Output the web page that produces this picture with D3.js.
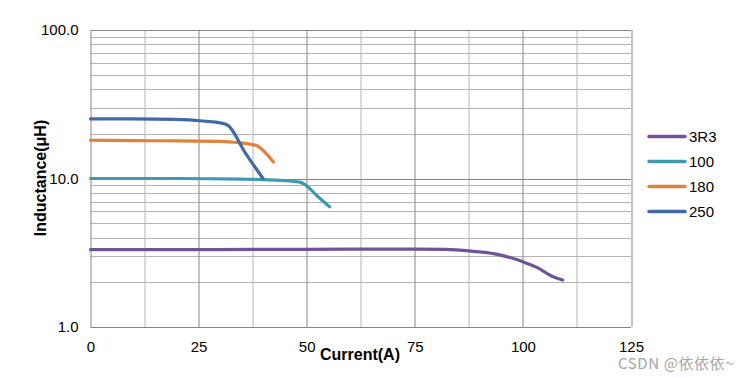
<!DOCTYPE html>
<html>
<head>
<meta charset="utf-8">
<script src="https://cdn.jsdelivr.net/npm/d3@7"></script>
<style>
  body { margin: 0; background: #fff; }
  svg { display: block; font-family: "Liberation Sans", Arial, sans-serif; }
</style>
</head>
<body>
<svg id="chart" width="750" height="378"></svg>
<script>
// series names and colours
var seriesNames = ["3R3", "100", "180", "250"];
var seriesColors = ["#6f5597", "#3f99af", "#e0823c", "#4169a6"];

// [current (A), inductance (uH)]
var data3R3 = [[0, 3.32], [20, 3.32], [40, 3.33], [60, 3.34], [75, 3.35], [82, 3.33], [88, 3.24],
    [93.5, 3.11], [100, 2.75], [103, 2.54], [107, 2.18], [109.2, 2.07]];
var data100 = [[0, 10.0], [20, 10.0], [35, 9.9], [44, 9.7], [48.4, 9.45], [49.6, 9.1], [52.5, 7.6], [55.3, 6.45]];
var data180 = [[0, 18.1], [10, 18.0], [20, 17.9], [30, 17.8], [34.5, 17.4], [37, 17.0], [38.5, 16.6], [42.3, 12.9]];
var data250 = [[0, 25.2], [10, 25.2], [19.5, 25.0], [26, 24.4], [30.3, 23.6], [31.8, 22.8], [35.8, 14.9], [39.9, 10.0]];

var xTicks = [0, 25, 50, 75, 100, 125];
var yTicks = [1, 10, 100];

var allSeries = [data3R3, data100, data180, data250];

var svg = d3.select("#chart"),
    margin = {top: 30, right: 119, bottom: 51, left: 90.5},
    width = 750 - margin.left - margin.right,
    height = 378 - margin.top - margin.bottom,
    g = svg.append("g").attr("transform", "translate(" + margin.left + "," + margin.top + ")");

var x = d3.scaleLinear().domain([0, 125]).range([0, width]);
var y = d3.scaleLog().domain([1, 100]).range([height, 0]);

// minor grid: every 12.5 A and log 2..9
var xMinor = d3.range(12.5, 125, 25);
var yMinor = [];
[1, 10].forEach(function (dec) {
    for (var k = 2; k <= 9; k++) yMinor.push(dec * k);
});

g.append("g").selectAll("line")
    .data(xMinor)
    .enter().append("line")
    .attr("x1", function (d) { return Math.round(x(d)) + 0.5; })
    .attr("x2", function (d) { return Math.round(x(d)) + 0.5; })
    .attr("y1", 0).attr("y2", height)
    .attr("stroke", "#b4b4b4").attr("stroke-width", 1);

g.append("g").selectAll("line")
    .data(yMinor)
    .enter().append("line")
    .attr("y1", function (d) { return Math.round(y(d)) + 0.5; })
    .attr("y2", function (d) { return Math.round(y(d)) + 0.5; })
    .attr("x1", 0).attr("x2", width)
    .attr("stroke", "#b4b4b4").attr("stroke-width", 1);

// major grid
g.append("g").selectAll("line")
    .data(xTicks)
    .enter().append("line")
    .attr("x1", function (d) { return Math.round(x(d)) + 0.5; })
    .attr("x2", function (d) { return Math.round(x(d)) + 0.5; })
    .attr("y1", 0).attr("y2", height)
    .attr("stroke", "#868686").attr("stroke-width", 1);

g.append("g").selectAll("line")
    .data(yTicks)
    .enter().append("line")
    .attr("y1", function (d) { return Math.round(y(d)) + 0.5; })
    .attr("y2", function (d) { return Math.round(y(d)) + 0.5; })
    .attr("x1", 0).attr("x2", width)
    .attr("stroke", "#868686").attr("stroke-width", 1);

// axes (labels only, lines drawn by the grid)
var xAxis = g.append("g")
    .attr("transform", "translate(0," + height + ")")
    .call(d3.axisBottom(x).tickValues(xTicks).tickSize(0).tickPadding(14).tickFormat(d3.format("d")));
xAxis.select(".domain").remove();
xAxis.selectAll("text").attr("font-size", 15).attr("fill", "#000").attr("font-family", "Liberation Sans, Arial, sans-serif");

var yAxis = g.append("g")
    .call(d3.axisLeft(y).tickValues(yTicks).tickSize(0).tickPadding(12).tickFormat(d3.format(".1f")));
yAxis.select(".domain").remove();
yAxis.selectAll("text").attr("font-size", 15).attr("fill", "#000").attr("font-family", "Liberation Sans, Arial, sans-serif");

// series lines
var line = d3.line()
    .x(function (d) { return x(d[0]); })
    .y(function (d) { return y(d[1]); })
    .curve(d3.curveMonotoneX);

g.append("g").selectAll("path")
    .data(allSeries)
    .enter().append("path")
    .attr("d", line)
    .attr("fill", "none")
    .attr("stroke", function (d, i) { return seriesColors[i]; })
    .attr("stroke-width", 3.2)
    .attr("stroke-linejoin", "round")
    .attr("stroke-linecap", "round");

// axis titles
svg.append("text")
    .attr("x", 360).attr("y", 360)
    .attr("text-anchor", "middle")
    .attr("font-size", 16).attr("font-weight", "bold")
    .text("Current(A)");

svg.append("text")
    .attr("transform", "translate(46,178) rotate(-90)")
    .attr("text-anchor", "middle")
    .attr("font-size", 16).attr("font-weight", "bold")
    .text("Inductance(μH)");

// legend
var legend = svg.append("g")
    .selectAll("g")
    .data(seriesNames)
    .enter().append("g")
    .attr("transform", function (d, i) { return "translate(649," + (136.5 + i * 25) + ")"; });

legend.append("line")
    .attr("x1", 0).attr("x2", 36)
    .attr("stroke", function (d, i) { return seriesColors[i]; })
    .attr("stroke-width", 3.5)
    .attr("stroke-linecap", "round");

legend.append("text")
    .attr("x", 40)
    .attr("dy", "0.35em")
    .attr("font-size", 15)
    .text(function (d) { return d; });

// watermark
svg.append("text")
    .attr("x", 618).attr("y", 369)
    .attr("font-size", 15)
    .attr("letter-spacing", 0.6)
    .attr("fill", "#a6a6a6")
    .attr("font-family", "'Noto Sans CJK SC', 'Liberation Sans', sans-serif")
    .text("CSDN @依依依~");
</script>
</body>
</html>
